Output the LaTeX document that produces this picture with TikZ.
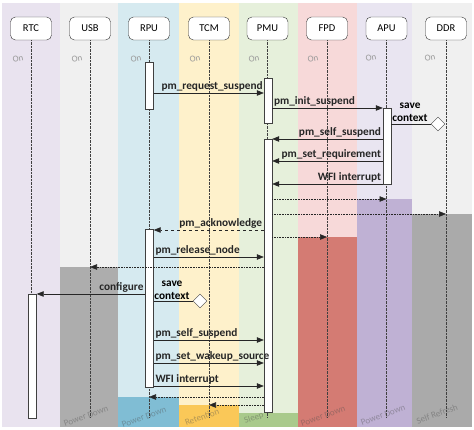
\documentclass[tikz,border=0pt]{standalone}
\usepackage{fontspec}
\setmainfont{Carlito}
\usetikzlibrary{arrows.meta,shapes.geometric}

% lane backgrounds
\definecolor{rtcbg}{HTML}{E9E3EF}
\definecolor{usbbg}{HTML}{F0F0F0}
\definecolor{rpubg}{HTML}{D6EAF0}
\definecolor{tcmbg}{HTML}{FEF1CB}
\definecolor{pmubg}{HTML}{E6F0DB}
\definecolor{fpdbg}{HTML}{F7D9D9}
\definecolor{apubg}{HTML}{E9E5F1}
\definecolor{ddrbg}{HTML}{F0F0F0}
% low power states
\definecolor{offgray}{HTML}{ADADAD}
\definecolor{rpuoff}{HTML}{80BDD4}
\definecolor{tcmret}{HTML}{FAC858}
\definecolor{pmusleep}{HTML}{A9CA8C}
\definecolor{fpdoff}{HTML}{D47B73}
\definecolor{apuoff}{HTML}{BFB1D4}
\definecolor{ddrsr}{HTML}{AAAAAA}

\begin{document}
\begin{tikzpicture}[
    x=1pt, y=-1pt,
    head/.style={rectangle, draw=black!80, fill=white, rounded corners=5pt, minimum width=41pt, minimum height=23pt, font=\fontsize{10.5}{12}\selectfont},
    lifeline/.style={densely dotted, black!75},
    bar/.style={rectangle, draw=black!75, fill=white, minimum width=8pt, inner sep=0pt},
    msg/.style={-{Triangle[length=7pt,width=5.5pt]}, black!85, semithick},
    cue/.style={msg, densely dotted},
    ack/.style={msg, dashed},
    lbl/.style={font=\bfseries\fontsize{11.3}{12.5}\selectfont, inner sep=1.5pt},
    ctx/.style={diamond, draw=black!75, fill=white, minimum width=14pt, minimum height=14pt, inner sep=0pt},
    onlbl/.style={font=\fontsize{9}{10}\selectfont, text=black!40, rotate=12},
    statelbl/.style={font=\fontsize{9}{10}\selectfont, text=black!70, text opacity=0.4, rotate=20},
]
\useasboundingbox (0,0) rectangle (474,430);

% lanes
\fill[rtcbg] (2,3) rectangle (60,427);
\fill[usbbg] (60,3) rectangle (118,427);
\fill[rpubg] (118,3) rectangle (179,427);
\fill[tcmbg] (179,3) rectangle (239,427);
\fill[pmubg] (239,3) rectangle (298,427);
\fill[fpdbg] (298,3) rectangle (357,427);
\fill[apubg] (357,3) rectangle (412,427);
\fill[ddrbg] (412,3) rectangle (472,427);

% states after suspend
\fill[offgray] (60,267) rectangle (118,427);
\fill[rpuoff] (118,397) rectangle (179,427);
\fill[tcmret] (179,405) rectangle (239,427);
\fill[pmusleep] (239,413) rectangle (298,427);
\fill[fpdoff] (298,237) rectangle (357,427);
\fill[apuoff] (357,199) rectangle (412,427);
\fill[ddrsr] (412,214) rectangle (472,427);

% heads
\node[head] (rtc) at (31,28.5) {RTC};
\node[head] (usb) at (90,28.5) {USB};
\node[head] (rpu) at (149,28.5) {RPU};
\node[head] (tcm) at (209,28.5) {TCM};
\node[head] (pmu) at (267.5,28.5) {PMU};
\node[head] (fpd) at (327,28.5) {FPD};
\node[head] (apu) at (386.5,28.5) {APU};
\node[head] (ddr) at (446,28.5) {DDR};

\coordinate (end) at (0,418);
\draw[lifeline] (rtc) -- (rtc |- end);
\draw[lifeline] (usb) -- (usb |- end);
\draw[lifeline] (rpu) -- (rpu |- end);
\draw[lifeline] (tcm) -- (tcm |- end);
\draw[lifeline] (pmu) -- (pmu |- end);
\draw[lifeline] (fpd) -- (fpd |- end);
\draw[lifeline] (apu) -- (apu |- end);
\draw[lifeline] (ddr) -- (ddr |- end);

\node[onlbl] (rtcon) at (18,59) {On};
\node[onlbl] (usbon) at (77,59) {On};
\node[onlbl] (rpuon) at (136,59) {On};
\node[onlbl] (tcmon) at (195,59) {On};
\node[onlbl] (pmuon) at (254,59) {On};
\node[onlbl] (fpdon) at (313,59) {On};
\node[onlbl] (apuon) at (371,58) {On};
\node[onlbl] (ddron) at (430,58) {On};

% activations
\node[bar, minimum height=47pt] (rpuA) at (149.5,85.5) {};
\node[bar, minimum height=45pt] (pmuA) at (268,100.5) {};
\node[bar, minimum height=76pt] (apuA) at (387,146) {};
\node[bar, minimum height=273pt] (pmuB) at (268,275.5) {};
\node[bar, minimum height=158pt] (rpuB) at (149.5,308) {};
\node[bar, minimum height=124pt] (rtcA) at (32.5,356) {};

% APU suspend
\draw[msg] (rpuA.east |- 0,93) -- (pmuA.west |- 0,93)
    node[lbl, pos=0, anchor=south west, xshift=6pt] {pm\_request\_suspend};
\draw[msg] (pmuA.east |- 0,108) -- (apuA.west |- 0,108)
    node[lbl, pos=0, anchor=south west] {pm\_init\_suspend};
\node[ctx] (ddrctx) at (438,124) {};
\draw[black!85, semithick] (apuA.east |- ddrctx) -- (ddrctx);
\node[lbl, align=center, anchor=south, inner sep=0.5pt] (apusave) at (410,122) {save\\context};
\draw[msg] (apuA.west |- 0,139) -- (pmuB.east |- 0,139)
    node[lbl, pos=0, anchor=south east] {pm\_self\_suspend};
\draw[msg] (apuA.west |- 0,161) -- (pmuB.east |- 0,161)
    node[lbl, pos=0, anchor=south east] {pm\_set\_requirement};
\draw[msg] (apuA.west |- 0,184) -- (pmuB.east |- 0,184)
    node[lbl, pos=0, anchor=south east] {WFI interrupt};
\draw[cue] (pmuB.east |- 0,199) -- (apu |- 0,199);
\draw[cue] (pmuB.east |- 0,214) -- (ddr |- 0,214);

% RPU suspend
\draw[ack] (pmuB.west |- 0,230) -- (rpuB.east |- 0,230)
    node[lbl, pos=0, anchor=south east] {pm\_acknowledge};
\draw[cue] (pmuB.east |- 0,237) -- (fpd |- 0,237);
\draw[msg] (rpuB.east |- 0,257) -- (pmuB.west |- 0,257)
    node[lbl, pos=0, anchor=south west] {pm\_release\_node};
\draw[cue] (pmuB.west |- 0,267) -- (usb |- 0,267);
\draw[msg] (rpuB.west |- 0,294) -- (rtcA.east |- 0,294)
    node[lbl, pos=0, anchor=south east] {configure};
\node[ctx] (tcmctx) at (200,301) {};
\draw[black!85, semithick] (rpuB.east |- tcmctx) -- (tcmctx);
\node[lbl, align=center, anchor=south, inner sep=0.5pt] (rpusave) at (172,300) {save\\context};
\draw[msg] (rpuB.east |- 0,340) -- (pmuB.west |- 0,340)
    node[lbl, pos=0, anchor=south west] {pm\_self\_suspend};
\draw[msg] (rpuB.east |- 0,363) -- (pmuB.west |- 0,363)
    node[lbl, pos=0, anchor=south west] {pm\_set\_wakeup\_source};
\draw[msg] (rpuB.east |- 0,386) -- (pmuB.west |- 0,386)
    node[lbl, pos=0, anchor=south west] {WFI interrupt};
\draw[cue] (pmuB.west |- 0,397) -- (rpu |- 0,397);
\draw[cue] (pmuB.west |- 0,405) -- (tcm |- 0,405);

% state names
\node[statelbl] (usbst) at (86,416) {Power Down};
\node[statelbl] (rpust) at (144,417) {Power Down};
\node[statelbl] (tcmst) at (202,417) {Retention};
\node[statelbl] (pmust) at (254,418) {Sleep};
\node[statelbl] (fpdst) at (323,416) {Power Down};
\node[statelbl] (apust) at (383,415) {Power Down};
\node[statelbl] (ddrst) at (437,414) {Self Refresh};
\end{tikzpicture}
\end{document}
